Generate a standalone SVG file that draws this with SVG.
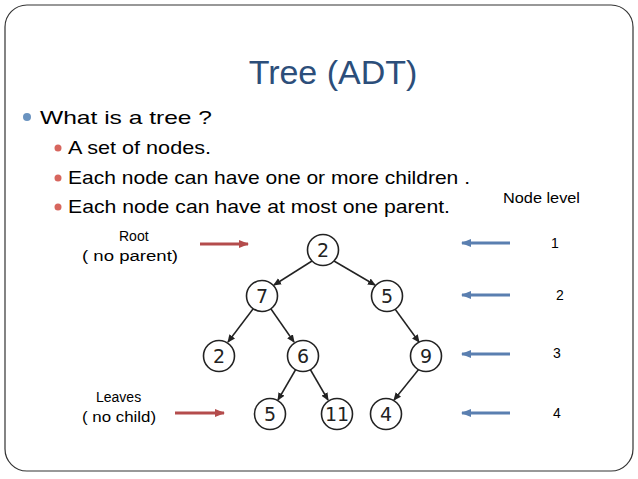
<svg xmlns="http://www.w3.org/2000/svg" width="638" height="479" viewBox="0 0 638 479">
<style>
.n circle{fill:#fff;stroke:#222;stroke-width:1.6}
.n text{font-family:"DejaVu Sans",sans-serif;font-size:19px;fill:#222;text-anchor:middle}
.e{stroke:#222;stroke-width:1.5;marker-end:url(#ah)}
.b{font-family:"Liberation Sans",Arial,sans-serif;font-size:19px;fill:#000}
.s{font-family:"Liberation Sans",Arial,sans-serif;font-size:14px;fill:#000}
</style>
<defs>
<marker id="ah" markerWidth="8" markerHeight="8" refX="7" refY="4" orient="auto" markerUnits="userSpaceOnUse"><path d="M0,0.5 L8,4 L0,7.5z" fill="#222"/></marker>
<marker id="ar" markerWidth="10" markerHeight="10" refX="9" refY="5" orient="auto" markerUnits="userSpaceOnUse"><path d="M0,1 L10,5 L0,9z" fill="#b44c4c"/></marker>
<marker id="ab" markerWidth="10" markerHeight="10" refX="9" refY="5" orient="auto" markerUnits="userSpaceOnUse"><path d="M0,1 L10,5 L0,9z" fill="#5a7fb0"/></marker>
</defs>
<rect width="638" height="479" fill="#fff"/>
<rect x="5" y="5" width="628" height="466" rx="22" fill="none" stroke="#333" stroke-width="1.2"/>
<text x="333" y="84" font-family="Liberation Sans,Arial,sans-serif" font-size="34" fill="#2c4e7a" text-anchor="middle">Tree (ADT)</text>
<circle cx="27" cy="117" r="4" fill="#6a93c0"/>
<text x="40" y="124" class="b" font-size="21" textLength="172" lengthAdjust="spacingAndGlyphs">What is a tree ?</text>
<circle cx="58" cy="148" r="3.5" fill="#d7665e"/>
<text x="68" y="154" class="b" textLength="143" lengthAdjust="spacingAndGlyphs">A set of nodes.</text>
<circle cx="58" cy="178" r="3.5" fill="#d7665e"/>
<text x="68" y="184" class="b" textLength="402" lengthAdjust="spacingAndGlyphs">Each node can have one or more children .</text>
<circle cx="58" cy="207" r="3.5" fill="#d7665e"/>
<text x="68" y="213" class="b" textLength="382" lengthAdjust="spacingAndGlyphs">Each node can have at most one parent.</text>
<text x="503" y="203" class="s" textLength="77" lengthAdjust="spacingAndGlyphs">Node level</text>
<text x="119" y="241" class="s">Root</text>
<text x="82" y="261" class="s" textLength="96" lengthAdjust="spacingAndGlyphs">( no parent)</text>
<text x="96" y="402" class="s">Leaves</text>
<text x="82" y="422" class="s" textLength="74" lengthAdjust="spacingAndGlyphs">( no child)</text>
<text x="555" y="248" class="s" text-anchor="middle">1</text>
<text x="560" y="300" class="s" text-anchor="middle">2</text>
<text x="557" y="358" class="s" text-anchor="middle">3</text>
<text x="557" y="418" class="s" text-anchor="middle">4</text>
<g id="connectors">
<line class="e" x1="312" y1="261" x2="274" y2="285"/>
<line class="e" x1="334" y1="261" x2="375" y2="285"/>
<line class="e" x1="253" y1="309" x2="228" y2="342"/>
<line class="e" x1="271" y1="309" x2="294" y2="342"/>
<line class="e" x1="395" y1="309" x2="419" y2="342"/>
<line class="e" x1="296" y1="369" x2="278" y2="400"/>
<line class="e" x1="310" y1="369" x2="328" y2="400"/>
<line class="e" x1="419" y1="369" x2="394" y2="400"/>
<line x1="200" y1="244" x2="248" y2="244" stroke="#b44c4c" stroke-width="3" marker-end="url(#ar)"/>
<line x1="175" y1="413" x2="224" y2="413" stroke="#b44c4c" stroke-width="3" marker-end="url(#ar)"/>
<line x1="510" y1="243" x2="462" y2="243" stroke="#5a7fb0" stroke-width="3" marker-end="url(#ab)"/>
<line x1="510" y1="295" x2="462" y2="295" stroke="#5a7fb0" stroke-width="3" marker-end="url(#ab)"/>
<line x1="510" y1="354" x2="462" y2="354" stroke="#5a7fb0" stroke-width="3" marker-end="url(#ab)"/>
<line x1="510" y1="413" x2="462" y2="413" stroke="#5a7fb0" stroke-width="3" marker-end="url(#ab)"/>
</g>
<g id="n1" class="n"><circle cx="323" cy="250" r="15.5"/><text x="323" y="257">2</text></g>
<g id="n2" class="n"><circle cx="262" cy="296" r="15.5"/><text x="262" y="303">7</text></g>
<g id="n3" class="n"><circle cx="387" cy="296" r="15.5"/><text x="387" y="303">5</text></g>
<g id="n4" class="n"><circle cx="219" cy="356" r="15.5"/><text x="219" y="363">2</text></g>
<g id="n5" class="n"><circle cx="303" cy="356" r="15.5"/><text x="303" y="363">6</text></g>
<g id="n6" class="n"><circle cx="426" cy="356" r="15.5"/><text x="426" y="363">9</text></g>
<g id="n7" class="n"><circle cx="270" cy="414" r="15.5"/><text x="270" y="421">5</text></g>
<g id="n8" class="n"><circle cx="337" cy="414" r="15.5"/><text x="337" y="421">11</text></g>
<g id="n9" class="n"><circle cx="386" cy="414" r="15.5"/><text x="386" y="421">4</text></g>
</svg>
